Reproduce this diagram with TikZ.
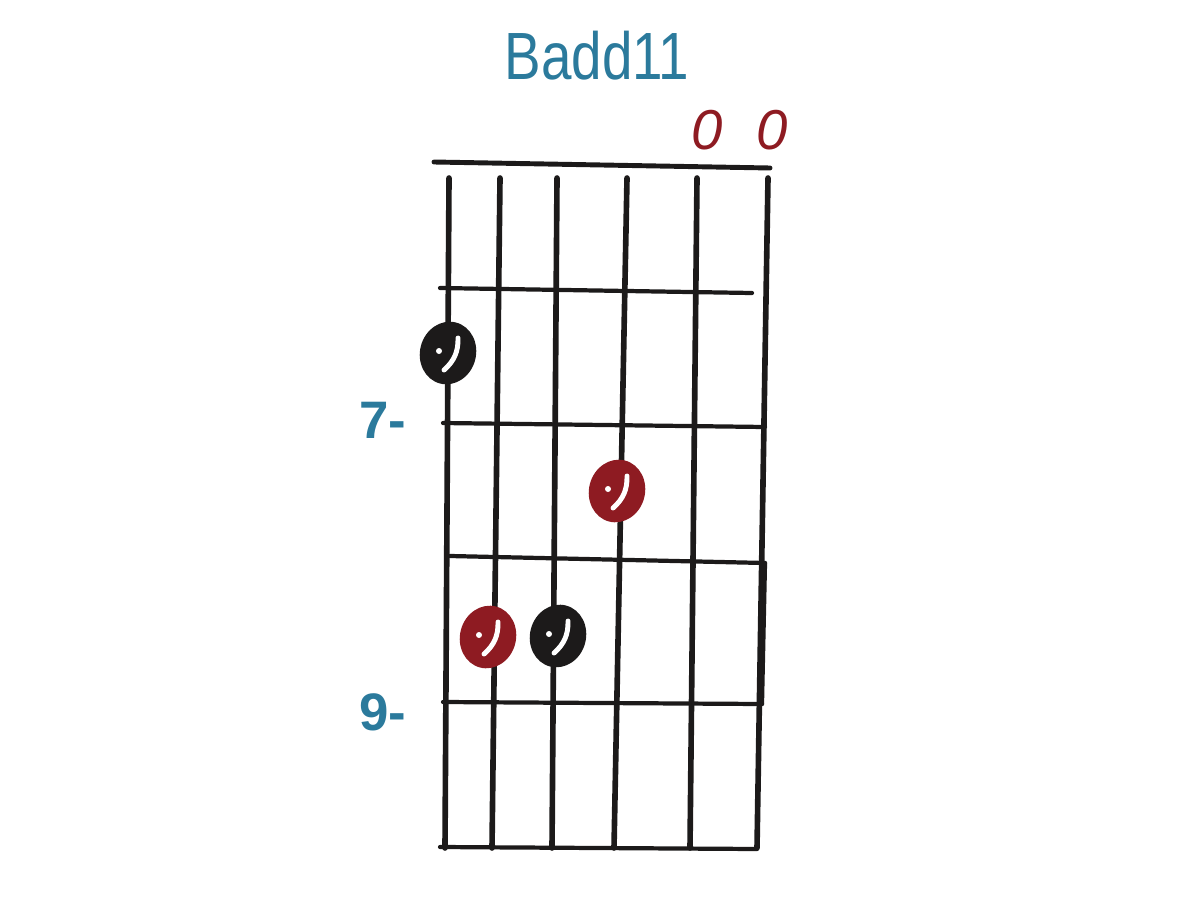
\documentclass[tikz,border=0pt]{standalone}
\usepackage{fontspec}
\setmainfont{Liberation Sans}
\usetikzlibrary{shapes.geometric}
\definecolor{inkblue}{HTML}{2B7A9C}
\definecolor{inkred}{HTML}{8E1B22}
\definecolor{inkblack}{HTML}{1C1A1A}
\begin{document}
\begin{tikzpicture}[x=0.01cm,y=-0.01cm]
      \tikzset{string/.style={draw=inkblack, line width=1.6pt, line cap=round},
               fret/.style={draw=inkblack, line width=1.2pt, line cap=round},
               finger/.style={draw=none, ellipse, minimum width=.56cm, minimum height=.63cm, rotate=-15, inner sep=0pt},
               fretnum/.style={text=inkblue, font=\fontsize{15}{15}\selectfont\bfseries}}
      \useasboundingbox (0,0) rectangle (1200,900);
%% Title and open strings
      	\node[text=inkblue, font=\fontsize{19}{19}\selectfont, xscale=.82] (title) at (597,56) {Badd11};
      	\node[text=inkred, font=\fontsize{16}{16}\selectfont\itshape] (open5) at (707,130) {0};
      	\node[text=inkred, font=\fontsize{16}{16}\selectfont\itshape] (open6) at (772,130) {0};
%% Strings
      	\foreach \n/\xt/\xb in {1/449/445, 2/500/492, 3/557/552, 4/627/614, 5/697/690, 6/768/757}{
      	    \coordinate (s\n t) at (\xt,178);
      	    \coordinate (s\n b) at (\xb,848);
      	    \draw[string] (s\n t) -- (s\n b);
      	}
%Nut and frets
		\coordinate (nutl) at (434,162); \coordinate (nutr) at (770,168);
		\draw[fret, line width=1.4pt] (nutl) -- (nutr);
		\coordinate (f1l) at (440,288); \coordinate (f1r) at (752,293);
		\coordinate (f2l) at (443,423); \coordinate (f2r) at (765,427);
		\coordinate (f3l) at (450,556); \coordinate (f3r) at (765,563);
		\coordinate (f4l) at (443,702); \coordinate (f4r) at (762,704);
		\coordinate (f5l) at (440,847); \coordinate (f5r) at (757,849);
		\foreach \f in {1,...,5}{\draw[fret] (f\f l) -- (f\f r);}
		\draw[fret] (f3r) -- (f4r);
%Fret numbers
		\node[fretnum] (seven) at (383,420) {7-};
		\node[fretnum] (nine) at (383,712) {9-};
%% Fingers
		\node[finger, fill=inkblack] (d1) at (448,353) {};
		\node[finger, fill=inkred] (d2) at (617,491) {};
		\node[finger, fill=inkred] (d3) at (488,637) {};
		\node[finger, fill=inkblack] (d4) at (558,636) {};
		\foreach \d in {d1,d2,d3,d4}{
		    \draw[white, line width=1.4pt, line cap=round] ([xshift=.1cm,yshift=.15cm]\d.center) to[bend left=25] ([xshift=-.04cm,yshift=-.17cm]\d.center);
		    \fill[white] ([xshift=-.09cm,yshift=.02cm]\d.center) circle (.03cm);
		}
	\end{tikzpicture}
\end{document}
